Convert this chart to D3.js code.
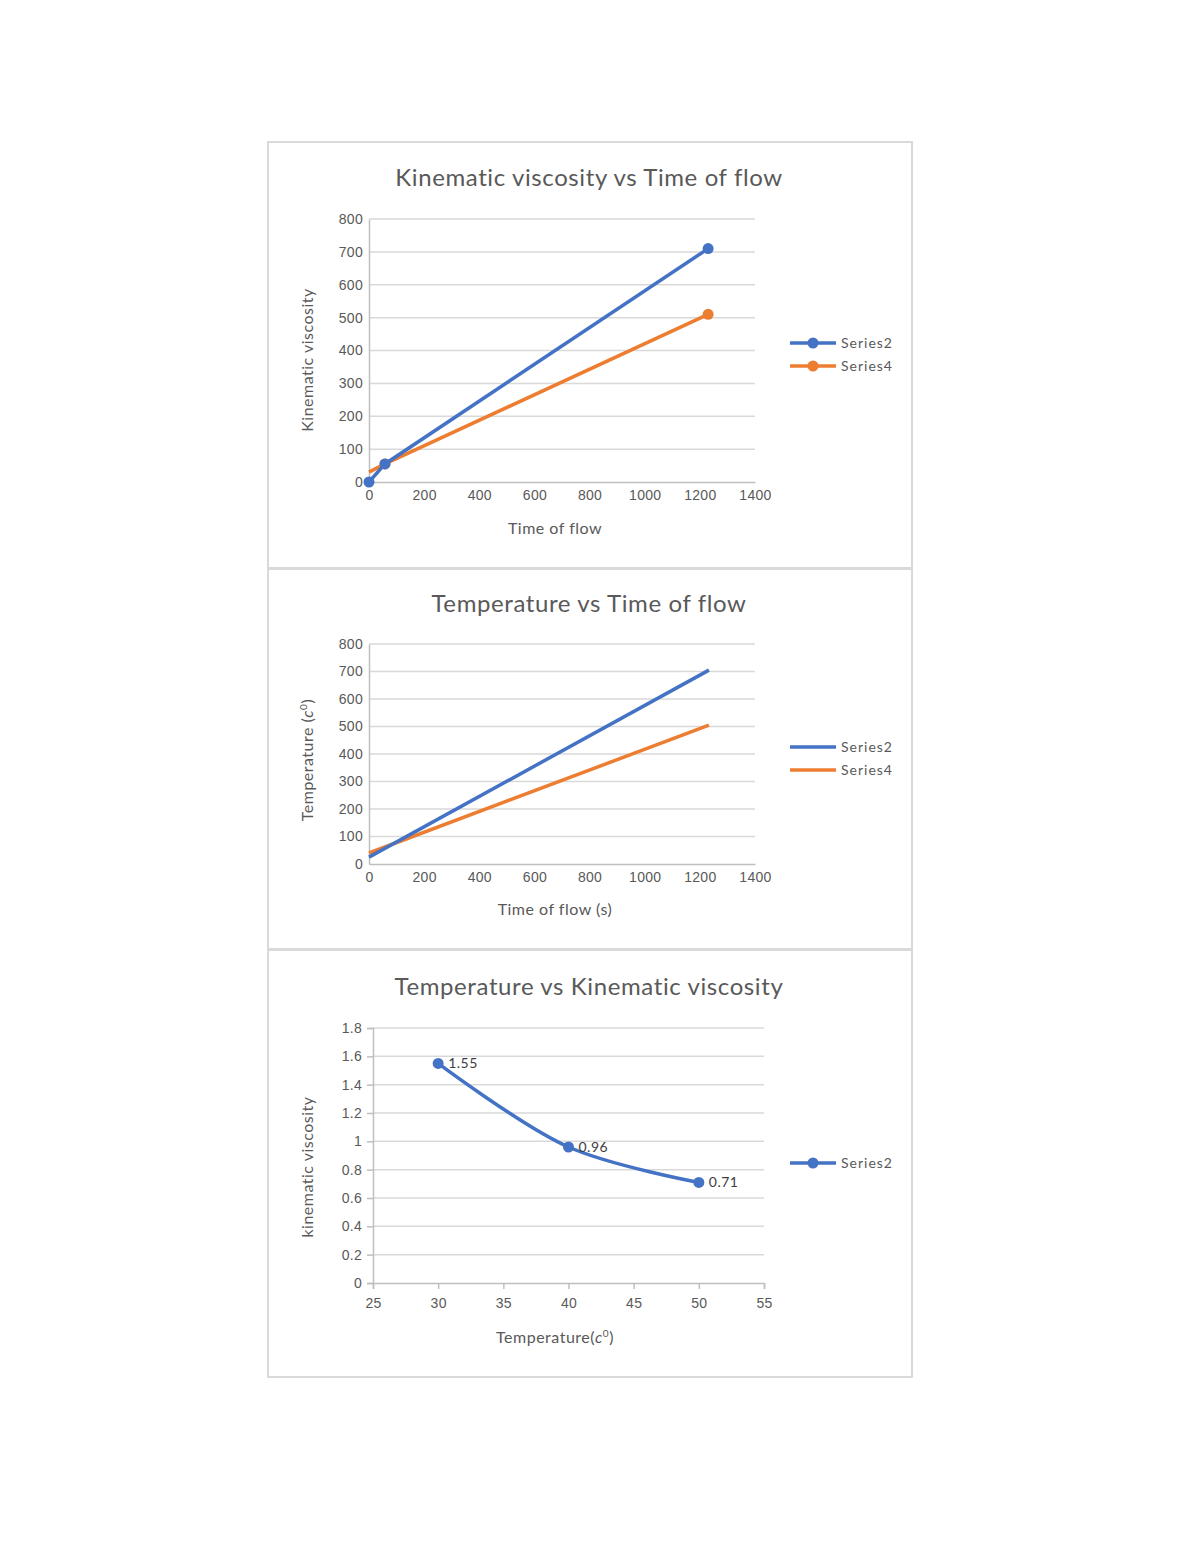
<!DOCTYPE html>
<html>
<head>
<meta charset="utf-8">
<script src="https://cdn.jsdelivr.net/npm/d3@7"></script>
<style>
  body { margin: 0; background: #fff; }
  svg { display: block; font-family: Lato, "Open Sans", sans-serif; }
  .title { font-size: 24px; fill: #595959; text-anchor: middle; letter-spacing: 0.6px; }
  .axtitle { font-size: 16px; fill: #595959; text-anchor: middle; letter-spacing: 0.5px; }
  .tick text { font-size: 14px; fill: #595959; letter-spacing: 0.3px; }
  .legendtext { font-size: 14px; fill: #595959; letter-spacing: 1px; }
  .datalabel { font-size: 14px; fill: #404040; letter-spacing: 0.5px; }
</style>
</head>
<body>
<script>
// chart 1 - kinematic viscosity vs time of flow
var flowX2 = [0, 58, 1230];
var viscY2 = [0, 55, 710];
var flowX4 = [0, 58, 1230];
var viscY4 = [30, 55, 510];
var marker4 = [false, true, true];

// chart 2 - temperature vs time of flow
var tempFlowX = [0, 1233];
var tempY2 = [25, 705];
var tempY4 = [40, 505];

// chart 3 - temperature vs kinematic viscosity
var tempX = [30, 40, 50];
var kinY = [1.55, 0.96, 0.71];

var ticks1400 = [0, 200, 400, 600, 800, 1000, 1200, 1400];
var ticks800 = [0, 100, 200, 300, 400, 500, 600, 700, 800];
var ticksTemp = [25, 30, 35, 40, 45, 50, 55];
var ticksKin = [0, 0.2, 0.4, 0.6, 0.8, 1, 1.2, 1.4, 1.6, 1.8];

var blue = "#4472C4";
var orange = "#ED7D31";
var grid = "#d9d9d9";

var svg = d3.select("body").append("svg")
  .attr("width", 1200)
  .attr("height", 1553)
;

// frames
[[268, 142, 644, 426], [268, 569, 644, 380], [268, 950, 644, 427]].forEach(function(b) {
  svg.append("rect")
    .attr("x", b[0]).attr("y", b[1])
    .attr("width", b[2]).attr("height", b[3])
    .attr("fill", "none")
    .attr("stroke", grid)
    .attr("stroke-width", 2)
  ;
});

var zip = function(xs, ys) {
  return xs.map(function(x, i) { return [x, ys[i]]; });
};

var drawAxes = function(g, x, y, xticks, yticks, tickMarks) {
  // gridlines
  g.append("g")
    .selectAll("line")
    .data(yticks.slice(1))
    .enter()
    .append("line")
      .attr("x1", x.range()[0])
      .attr("x2", x.range()[1])
      .attr("y1", function(d) { return y(d); })
      .attr("y2", function(d) { return y(d); })
      .attr("stroke", grid)
      .attr("stroke-width", 1.5)
  ;

  var tickSize = tickMarks ? 6 : 0;
  var fmt = function(d) { return String(d); };
  var xa = g.append("g")
    .attr("transform", "translate(0," + y.range()[0] + ")")
    .call(d3.axisBottom(x).tickValues(xticks).tickFormat(fmt).tickSize(tickSize).tickPadding(tickMarks ? 9 : 8))
  ;
  var ya = g.append("g")
    .attr("transform", "translate(" + x.range()[0] + ",0)")
    .call(d3.axisLeft(y).tickValues(yticks).tickFormat(fmt).tickSize(tickSize).tickPadding(tickMarks ? 5 : 6))
  ;
  [xa, ya].forEach(function(a) {
    a.select(".domain").attr("stroke", "#bfbfbf").attr("stroke-width", 1.5);
    a.selectAll(".tick line").attr("stroke", "#bfbfbf").attr("stroke-width", 1.5);
  });
};

var drawLine = function(g, x, y, pts, color, curve) {
  g.append("path")
    .datum(pts)
    .attr("fill", "none")
    .attr("stroke", color)
    .attr("stroke-width", 3.5)
    .attr("d", d3.line()
      .x(function(d) { return x(d[0]); })
      .y(function(d) { return y(d[1]); })
      .curve(curve || d3.curveLinear))
  ;
};

var drawDots = function(g, x, y, pts, color) {
  g.append("g")
    .selectAll("circle")
    .data(pts)
    .enter()
    .append("circle")
      .attr("cx", function(d) { return x(d[0]); })
      .attr("cy", function(d) { return y(d[1]); })
      .attr("r", 5.5)
      .attr("fill", color)
  ;
};

var legend = function(items, top, dots) {
  var lg = svg.append("g")
    .selectAll("g")
    .data(items)
    .enter()
    .append("g")
      .attr("transform", function(d, i) { return "translate(790," + (top + i * 23) + ")"; })
  ;
  lg.append("line")
    .attr("x1", 0).attr("x2", 46)
    .attr("stroke", function(d) { return d[1]; })
    .attr("stroke-width", 3.5)
  ;
  if (dots) {
    lg.append("circle")
      .attr("cx", 23)
      .attr("r", 5.5)
      .attr("fill", function(d) { return d[1]; })
    ;
  }
  lg.append("text")
    .attr("class", "legendtext")
    .attr("x", 51)
    .attr("y", 5)
    .text(function(d) { return d[0]; })
  ;
};

var yTitle = function(cx, cy, build) {
  var t = svg.append("text")
    .attr("class", "axtitle")
    .attr("transform", "translate(" + cx + "," + cy + ") rotate(-90)")
  ;
  build(t);
};

// ---- chart 1
var x1 = d3.scaleLinear().domain([0, 1400]).range([369, 755]);
var y1 = d3.scaleLinear().domain([0, 800]).range([482, 219]);
var g1 = svg.append("g");
drawAxes(g1, x1, y1, ticks1400, ticks800, false);
drawLine(g1, x1, y1, zip(flowX4, viscY4), orange);
drawDots(g1, x1, y1, zip(flowX4, viscY4).filter(function(d, i) { return marker4[i]; }), orange);
drawLine(g1, x1, y1, zip(flowX2, viscY2), blue);
drawDots(g1, x1, y1, zip(flowX2, viscY2), blue);

svg.append("text").attr("class", "title").attr("x", 589).attr("y", 186).text("Kinematic viscosity vs Time of flow");
svg.append("text").attr("class", "axtitle").attr("x", 555).attr("y", 534).text("Time of flow");
yTitle(313, 360, function(t) { t.text("Kinematic viscosity"); });
legend([["Series2", blue], ["Series4", orange]], 343, true);

// ---- chart 2
var x2 = d3.scaleLinear().domain([0, 1400]).range([369, 755]);
var y2 = d3.scaleLinear().domain([0, 800]).range([864, 644]);
var g2 = svg.append("g");
drawAxes(g2, x2, y2, ticks1400, ticks800, false);
drawLine(g2, x2, y2, zip(tempFlowX, tempY4), orange);
drawLine(g2, x2, y2, zip(tempFlowX, tempY2), blue);

svg.append("text").attr("class", "title").attr("x", 589).attr("y", 612).text("Temperature vs Time of flow");
svg.append("text").attr("class", "axtitle").attr("x", 555).attr("y", 915).text("Time of flow (s)");
yTitle(313, 760, function(t) {
  t.append("tspan").text("Temperature (");
  t.append("tspan").attr("font-style", "italic").text("c");
  t.append("tspan").attr("font-size", "10px").attr("dy", -6).text("0");
  t.append("tspan").attr("dy", 6).text(")");
});
legend([["Series2", blue], ["Series4", orange]], 747, false);

// ---- chart 3
var x3 = d3.scaleLinear().domain([25, 55]).range([373, 764]);
var y3 = d3.scaleLinear().domain([0, 1.8]).range([1283, 1028]);
var g3 = svg.append("g");
drawAxes(g3, x3, y3, ticksTemp, ticksKin, true);
var pts3 = zip(tempX, kinY);
drawLine(g3, x3, y3, pts3, blue, d3.curveCatmullRom.alpha(0.5));
drawDots(g3, x3, y3, pts3, blue);
g3.append("g")
  .selectAll("text")
  .data(pts3)
  .enter()
  .append("text")
    .attr("class", "datalabel")
    .attr("x", function(d) { return x3(d[0]) + 10; })
    .attr("y", function(d) { return y3(d[1]) + 5; })
    .text(function(d) { return d[1]; })
;

svg.append("text").attr("class", "title").attr("x", 589).attr("y", 995).text("Temperature vs Kinematic viscosity");
var xt3 = svg.append("text").attr("class", "axtitle").attr("x", 555).attr("y", 1343);
xt3.append("tspan").text("Temperature(");
xt3.append("tspan").attr("font-style", "italic").text("c");
xt3.append("tspan").attr("font-size", "10px").attr("dy", -6).text("0");
xt3.append("tspan").attr("dy", 6).text(")");
yTitle(313, 1167, function(t) { t.text("kinematic viscosity"); });
legend([["Series2", blue]], 1163, true);
</script>
</body>
</html>
